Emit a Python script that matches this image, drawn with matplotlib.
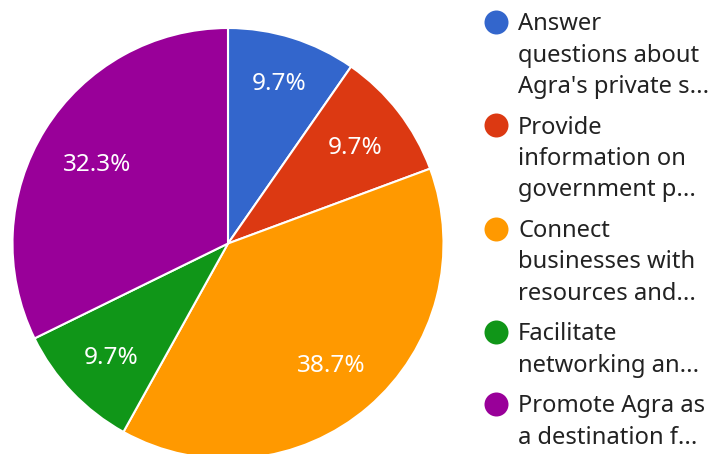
import matplotlib
matplotlib.use("Agg")
import matplotlib.pyplot as plt
import numpy as np

categories = [
    "Answer\nquestions about\nAgra's private s...",
    "Provide\ninformation on\ngovernment p...",
    "Connect\nbusinesses with\nresources and...",
    "Facilitate\nnetworking an...",
    "Promote Agra as\na destination f...",
]
values = [3, 3, 12, 3, 10]
colors = ["#3366cc", "#dc3912", "#ff9900", "#109618", "#990099"]

plt.rcParams['font.family'] = ['Noto Sans', 'DejaVu Sans']

W, H = 713, 454
fig = plt.figure(figsize=(W / 100, H / 100), dpi=100)
ax = fig.add_axes([0, 0, 1, 1])

cx, cy, R = 228, H - 243.5, 215.5
pct_fs = 17.5
wedges, texts, autotexts = ax.pie(
    values, colors=colors, startangle=90, counterclock=False,
    center=(cx, cy), radius=R,
    autopct=lambda p: f"{p:.1f}%", pctdistance=0.75,
    wedgeprops=dict(edgecolor="white", linewidth=1.5),
    textprops=dict(color="white", fontsize=pct_fs),
)
ax.set_xlim(0, W)
ax.set_ylim(0, H)
ax.set_aspect('equal')
ax.axis('off')

# place percentage labels so the outer corner of their box sits at a fixed radius
fig.canvas.draw()
renderer = fig.canvas.get_renderer()
digit_h = pct_fs * 100 / 72 * 0.714
r_out = 0.873 * R
for w, t in zip(wedges, autotexts):
    th = np.deg2rad((w.theta1 + w.theta2) / 2)
    u = np.array([np.cos(th), np.sin(th)])
    bw = t.get_window_extent(renderer).width
    c = np.array([np.sign(u[0]) * bw / 2, np.sign(u[1]) * digit_h / 2])
    uc = u @ c
    d = -uc + np.sqrt(uc ** 2 - c @ c + r_out ** 2)
    px, py = cx + d * u[0], cy + d * u[1]
    t.set_position((px, py - digit_h / 2))
    t.set_va('baseline')
    t.set_ha('center')

# legend
line_h = 31.5
entry_gap = 40
y = 30
for lab, col in zip(categories, colors):
    lines = lab.split("\n")
    ax.scatter([496], [H - (y - 8.5)], s=(24 * 72 / 100) ** 2, color=col, zorder=3, linewidths=0)
    for i, ln in enumerate(lines):
        ax.text(518, H - (y + i * line_h), ln, fontsize=17.1, color="#222222",
                ha="left", va="baseline")
    y += (len(lines) - 1) * line_h + entry_gap + 0.5

fig.savefig("out.png", dpi=100)
